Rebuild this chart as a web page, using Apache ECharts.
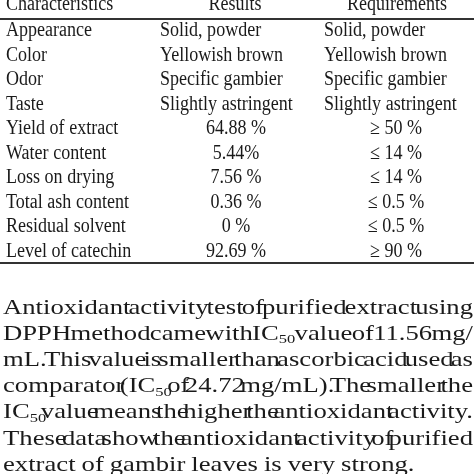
<!DOCTYPE html>
<html><head><meta charset="utf-8">
<script src="https://cdn.jsdelivr.net/npm/echarts@6/dist/echarts.min.js"></script>
<style>html,body{margin:0;padding:0;background:#fff}#c{width:474px;height:474px}</style>
</head><body><div id="c"></div>
<script>
const headers = ['Characteristics', 'Results', 'Requirements'];
const characteristics = ['Appearance','Color','Odor','Taste','Yield of extract','Water content','Loss on drying','Total ash content','Residual solvent','Level of catechin'];
const results = ['Solid, powder','Yellowish brown','Specific gambier','Slightly astringent','64.88 %','5.44%','7.56 %','0.36 %','0 %','92.69 %'];
const requirements = ['Solid, powder','Yellowish brown','Specific gambier','Slightly astringent','≥ 50 %','≤ 14 %','≤ 14 %','≤ 0.5 %','≤ 0.5 %','≥ 90 %'];
const paragraph = [
 'Antioxidant activity test of purified extract using',
 'DPPH method came with IC_50 value of 11.56 mg/',
 'mL.  This value is smaller than  ascorbic acid used as',
 'comparator (IC_50 of 24.72 mg/mL). The smaller the',
 'IC_50 value means the higher the antioxidant activity.',
 'These data show the antioxidant activity of purified',
 'extract of gambir leaves is very strong.'
];
const FONT = '"Liberation Serif","DejaVu Serif",serif';
const chart = echarts.init(document.getElementById('c'));
const els = [];
const tf = 20.5, tsx = 0.88, col = '#1a1a1a';
function txt(x,y,s,align,size){
  els.push({type:'text',x:x,y:y,scaleX:tsx,style:{text:s,fill:col,font:size+'px '+FONT,textAlign:align,textVerticalAlign:'middle'}});
}
txt(6,5,headers[0],'left',tf); txt(235,5,headers[1],'center',tf); txt(397,5,headers[2],'center',tf);
els.push({type:'rect',shape:{x:0,y:18,width:474,height:2},style:{fill:'#333'}});
characteristics.forEach((c,i)=>{
  const y=31+i*24.5;
  txt(6,y,c,'left',tf);
  if(i<4){ txt(160,y,results[i],'left',tf); txt(324,y,requirements[i],'left',tf);}
  else { txt(236,y,results[i],'center',tf); txt(396,y,requirements[i],'center',tf);}
});
els.push({type:'rect',shape:{x:0,y:262,width:474,height:2},style:{fill:'#333'}});
const pf=21, psx=1.27;
const cv=document.createElement('canvas').getContext('2d');
function wordW(w){
  let a;
  if(w.includes('_50')){const p=w.split('_50');cv.font=pf+'px '+FONT;a=cv.measureText(p[0]+p[1]).width;cv.font='13px '+FONT;a+=cv.measureText('50').width;}
  else {cv.font=pf+'px '+FONT;a=cv.measureText(w).width;}
  return a*psx;
}
function word(x,y,w){
  if(w.includes('_50')){
    const p=w.split('_50');
    els.push({type:'text',x:x,y:y,scaleX:psx,style:{text:'{a|'+p[0]+'}{s|50}{a|'+p[1]+'}',textVerticalAlign:'middle',
      rich:{a:{font:pf+'px '+FONT,fill:col,verticalAlign:'middle'},s:{font:'13px '+FONT,fill:col,padding:[11,0,0,0],verticalAlign:'middle'}}}});
  } else els.push({type:'text',x:x,y:y,scaleX:psx,style:{text:w,fill:col,font:pf+'px '+FONT,textVerticalAlign:'middle'}});
}
const L=3,R=473;
paragraph.forEach((line,i)=>{
  const y=308+i*26.2;
  const ws=line.split(/\s+/);
  const tot=ws.reduce((s,w)=>s+wordW(w),0);
  const last=i===paragraph.length-1;
  const gap= last?6:(R-L-tot)/(ws.length-1);
  let x=L;
  ws.forEach(w=>{word(x,y,w);x+=wordW(w)+gap;});
});
chart.setOption({animation:false,graphic:els});
</script></body></html>
